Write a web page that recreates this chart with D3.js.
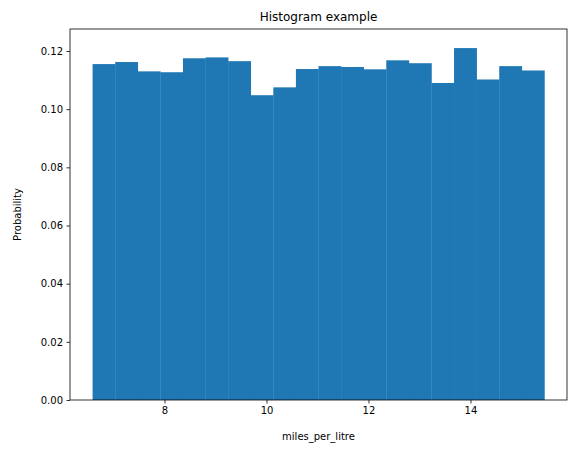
<!DOCTYPE html>
<html><head><meta charset="utf-8">
<script src="https://cdn.jsdelivr.net/npm/d3@7"></script>
<style>body{margin:0;background:#fff}text{font-family:"DejaVu Sans",sans-serif}</style>
</head><body><div id="chart"></div>
<script>
var binStart = 6.59, binEnd = 15.45
var probs = [0.1155,0.1162,0.1130,0.1127,0.1175,0.1178,0.1165,0.1048,0.1075,0.1138,
 0.1148,0.1145,0.1137,0.1168,0.1158,0.1090,0.1210,0.1102,0.1148,0.1133]
var xTicks = [8,10,12,14]
var yTicks = [0,0.02,0.04,0.06,0.08,0.10,0.12]

var margin = {top: 29, right: 9, bottom: 53, left: 70}
var width = 576 - margin.left - margin.right, height = 453 - margin.top - margin.bottom
var svg = d3.select("#chart").append("svg").attr("width",576).attr("height",453)
var g = svg.append("g").attr("transform","translate(" + margin.left + "," + margin.top + ")")

var x = d3.scaleLinear().domain([6.147,15.893]).range([0,width])
var y = d3.scaleLinear().domain([0,0.12/349*371]).range([height,0])
var bw = (binEnd - binStart) / probs.length

g.selectAll("rect.bar").data(probs).enter().append("rect")
 .attr("x", function (d,i) { return x(binStart + i*bw) })
 .attr("width", x(binStart + bw) - x(binStart) + 0.3)
 .attr("y", function (d) { return y(d) })
 .attr("height", function (d) { return height - y(d) })
 .attr("fill","#1f77b4")

g.append("rect").attr("width",width).attr("height",height).attr("fill","none").attr("stroke","#000").attr("stroke-width",0.8)

var xa = g.append("g").attr("transform","translate(0," + height + ")")
 .call(d3.axisBottom(x).tickValues(xTicks).tickSize(3.5).tickPadding(3.5))
var ya = g.append("g").call(d3.axisLeft(y).tickValues(yTicks).tickFormat(d3.format(".2f")).tickSize(3.5).tickPadding(3.5))
;[xa,ya].forEach(function (a) {
 a.select(".domain").remove()
 a.selectAll("text").attr("font-size",10).attr("fill","#000").style("font-family","DejaVu Sans")
 a.selectAll("line").attr("stroke","#000").attr("stroke-width",0.8)
})

svg.append("text").attr("x", margin.left + width/2).attr("y", 21).attr("text-anchor","middle")
 .attr("font-size",12).text("Histogram example")
svg.append("text").attr("x", margin.left + width/2).attr("y", 440).attr("text-anchor","middle")
 .attr("font-size",10).text("miles_per_litre")
svg.append("text").attr("transform","translate(21," + (margin.top + height/2) + ") rotate(-90)")
 .attr("text-anchor","middle").attr("font-size",10).text("Probability")
</script></body></html>
